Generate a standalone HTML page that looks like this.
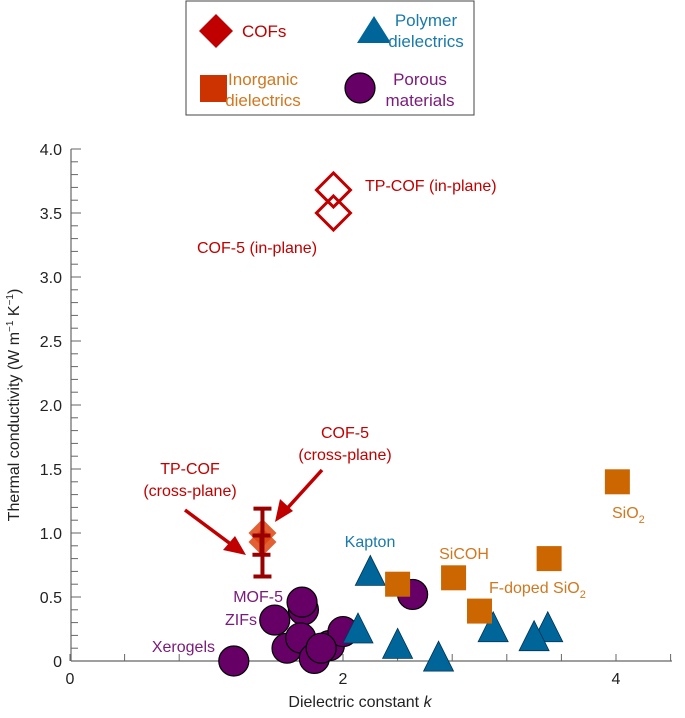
<!DOCTYPE html>
<html><head><meta charset="utf-8"><style>
body{margin:0;background:#fff;}
svg text{font-family:"Liberation Sans",sans-serif;}
</style></head><body>
<svg id="chart" width="685" height="713" viewBox="0 0 685 713" xmlns="http://www.w3.org/2000/svg">
<g>
<rect x="186" y="1" width="288" height="114" fill="#fff" stroke="#444" stroke-width="1"/>
<polygon points="216,14 233,31 216,48 199,31" fill="#c00000"/>
<text x="242" y="37" font-size="17" fill="#c00000">COFs</text>
<polygon points="374,16 391,43 357,43" fill="#006699"/>
<text x="426" y="26" font-size="17" fill="#1a7aaa" text-anchor="middle"><tspan x="426">Polymer</tspan><tspan x="426" dy="21">dielectrics</tspan></text>
<rect x="200" y="75" width="27" height="27" fill="#cc3300"/>
<text x="263" y="85" font-size="17" fill="#d07820" text-anchor="middle"><tspan x="263">Inorganic</tspan><tspan x="263" dy="21">dielectrics</tspan></text>
<circle cx="360" cy="88" r="15" fill="#660066" stroke="#000" stroke-width="1.2"/>
<text x="420" y="85" font-size="17" fill="#7a1a7a" text-anchor="middle"><tspan x="420">Porous</tspan><tspan x="420" dy="21">materials</tspan></text>
</g>
<g id="axes"></g>
<g id="marks"></g>
<g font-size="16">
<text x="365" y="191" fill="#c00000">TP-COF  (in-plane)</text>
<text x="197" y="253" fill="#c00000">COF-5  (in-plane)</text>
<text x="345" y="438" fill="#c00000" text-anchor="middle"><tspan x="345">COF-5</tspan><tspan x="345" dy="22">(cross-plane)</tspan></text>
<text x="190" y="474" fill="#c00000" text-anchor="middle"><tspan x="190">TP-COF</tspan><tspan x="190" dy="22">(cross-plane)</tspan></text>
<line x1="185" y1="510" x2="236" y2="548" stroke="#c00000" stroke-width="3.5"/>
<polygon points="246,555 223,550 235,536" fill="#c00000"/>
<line x1="322" y1="470" x2="283" y2="513" stroke="#c00000" stroke-width="3.5"/>
<polygon points="275,522 280,499 293,511" fill="#c00000"/>
<text x="370" y="547" fill="#1a7aaa" text-anchor="middle">Kapton</text>
<text x="464" y="559" fill="#d07820" text-anchor="middle">SiCOH</text>
<text x="489" y="593" fill="#d07820">F-doped SiO<tspan font-size="11" dy="5">2</tspan></text>
<text x="612" y="518" fill="#d07820">SiO<tspan font-size="11" dy="5">2</tspan></text>
<text x="283" y="602" fill="#7a1a7a" text-anchor="end">MOF-5</text>
<text x="257" y="625" fill="#7a1a7a" text-anchor="end">ZIFs</text>
<text x="215" y="652" fill="#7a1a7a" text-anchor="end">Xerogels</text>
</g>
</svg>
<script>
const xTicks=[0,2,4];
const yTicks=[0,0.5,1.0,1.5,2.0,2.5,3.0,3.5,4.0];
const yTickLabels=["0","0.5","1.0","1.5","2.0","2.5","3.0","3.5","4.0"];
const porousX=[1.20,1.50,1.71,1.70,1.59,1.69,1.79,1.90,2.00,1.84,2.51];
const porousY=[0.00,0.32,0.40,0.46,0.10,0.18,0.02,0.12,0.23,0.10,0.52];
const polymerX=[2.20,2.11,2.40,2.70,3.10,3.50,3.40];
const polymerY=[0.70,0.25,0.13,0.03,0.26,0.26,0.19];
const inorgX=[2.40,2.81,3.00,3.51,4.01];
const inorgY=[0.60,0.65,0.39,0.80,1.40];
const cofInX=[1.93,1.93];
const cofInY=[3.68,3.50];
const cofCrossX=[1.41,1.41];
const cofCrossY=[1.00,0.93];
const errLow=[0.66,0.83];
const errHigh=[1.19,0.98];
const NS="http://www.w3.org/2000/svg";
const X=v=>70+136.5*v, Y=v=>661-128*v;
function mk(tag,attrs,parent){const e=document.createElementNS(NS,tag);for(const k in attrs)e.setAttribute(k,attrs[k]);parent.appendChild(e);return e;}
const ax=document.getElementById('axes'), mg=document.getElementById('marks');
let l=mk('line',{x1:71,y1:Y(4),x2:71,y2:661,stroke:'#666','stroke-width':1.2},ax);


l=mk('line',{x1:71,y1:661,x2:672,y2:661,stroke:'#666','stroke-width':1.2},ax);


for(let i=0;i<=40;i++){const v=i/10;const y=Y(v);mk('line',{x1:71,y1:y,x2:71+(i%5===0?10:7),y2:y,stroke:'#666','stroke-width':1},ax);}
for(let i=0;i<=11;i++){const x=X(i*0.4);mk('line',{x1:x,y1:661,x2:x,y2:654,stroke:'#666','stroke-width':1},ax);}
yTicks.forEach((v,i)=>{const t=mk('text',{x:62,y:Y(v)+6,'text-anchor':'end','font-size':16,fill:'#222'},ax);t.textContent=yTickLabels[i];

});
xTicks.forEach(v=>{const t=mk('text',{x:X(v),y:684,'text-anchor':'middle','font-size':16,fill:'#222'},ax);t.textContent=v;

});
let t=mk('text',{x:360,y:707,'text-anchor':'middle','font-size':16,fill:'#222'},ax);
t.innerHTML='Dielectric constant <tspan font-style="italic">k</tspan>';


t=mk('text',{x:0,y:0,'text-anchor':'middle','font-size':16,fill:'#222',transform:'translate(19,405) rotate(-90)'},ax);
t.innerHTML='Thermal conductivity (W m<tspan font-size="10" dy="-6">−1</tspan><tspan dy="6"> K</tspan><tspan font-size="10" dy="-6">−1</tspan><tspan dy="6">)</tspan>';


porousX.forEach((v,i)=>{const c=mk('circle',{cx:X(v),cy:Y(porousY[i]),r:15,fill:'#660066',stroke:'#000','stroke-width':1.2},mg);

});
polymerX.forEach((v,i)=>{const x=X(v),y=Y(polymerY[i]);const p=mk('polygon',{points:`${x},${y-16} ${x+15},${y+14} ${x-15},${y+14}`,fill:'#006699',stroke:'#003355','stroke-width':0.8},mg);

});
inorgX.forEach((v,i)=>{const x=X(v),y=Y(inorgY[i]);const r=mk('rect',{x:x-12.5,y:y-12.5,width:25,height:25,fill:'#cc6600'},mg);

});
cofInX.forEach((v,i)=>{const x=X(v),y=Y(cofInY[i]);const p=mk('polygon',{points:`${x},${y-17} ${x+17},${y} ${x},${y+17} ${x-17},${y}`,fill:'none',stroke:'#c00000','stroke-width':3},mg);

});
cofCrossX.forEach((v,i)=>{const x=X(v),y=Y(cofCrossY[i]);const p=mk('polygon',{points:`${x},${y-14} ${x+14},${y} ${x},${y+14} ${x-14},${y}`,fill:'#dd4411',opacity:0.85},mg);

});
cofCrossX.forEach((v,i)=>{const x=X(v)+(i?-1:0),y1=Y(errHigh[i]),y2=Y(errLow[i]);const g=mk('g',{stroke:'#990000','stroke-width':4},mg);


mk('line',{x1:x,y1:y1,x2:x,y2:y2},g);mk('line',{x1:x-9,y1:y1,x2:x+9,y2:y1},g);mk('line',{x1:x-9,y1:y2,x2:x+9,y2:y2},g);});
</script>
</body></html>
